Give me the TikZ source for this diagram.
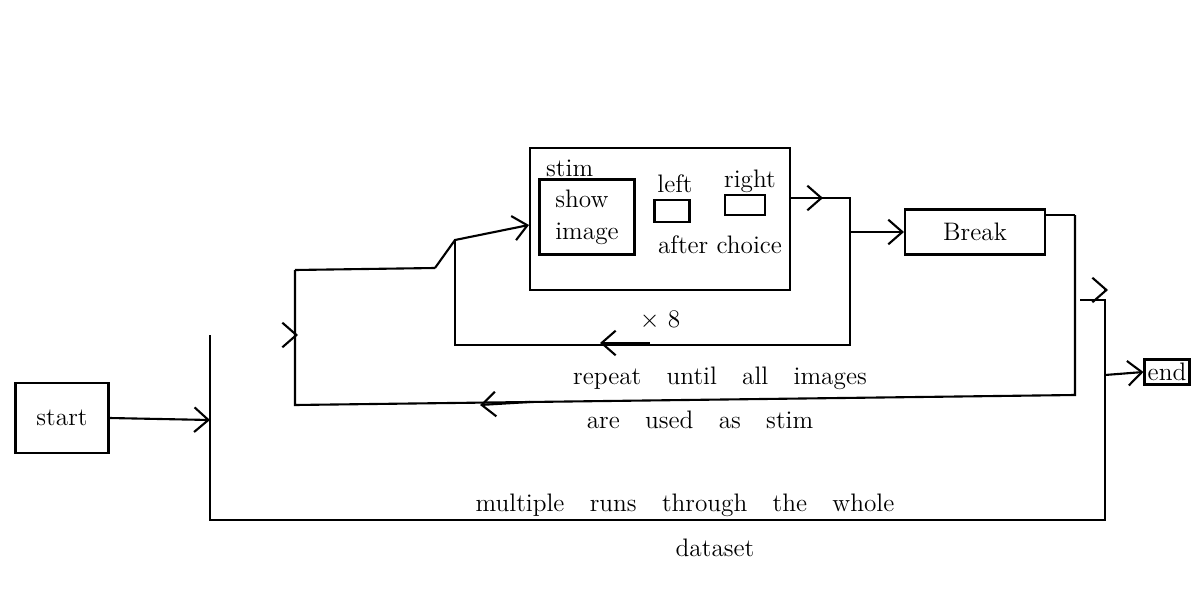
\documentclass[tikz,border=0pt]{standalone}
\usetikzlibrary{arrows.meta}
\begin{document}
\begin{tikzpicture}[x=0.02cm,y=-0.02cm,
 line/.style={draw,line width=1.2pt},
 arr/.style={line,-{Straight Barb[length=8pt,width=14pt]}},
 bx/.style={draw,line width=1.2pt,inner sep=0pt},
 lbl/.style={font=\Large}]
\useasboundingbox (0,0) rectangle (1200,608);
% start
\node[bx,minimum width=1.86cm,minimum height=1.4cm,lbl] (start) at (62,418) {start};
\coordinate (sL) at (210,420);
\draw[arr] (start.east) -- (sL);
% outer loop
\coordinate (o1) at (210,335); \coordinate (o2) at (210,520); \coordinate (o3) at (1105,520); \coordinate (o4) at (1105,300);
\draw[line] (o1) -- (o2) -- (o3) -- (o4) -- (1080,300);
\draw[arr] (1104,290) -- (1108,290);
\node[lbl] (ml) at (685,505) {multiple\quad runs\quad through\quad the\quad whole};
\node[lbl] (ds) at (715,548) {dataset};
% middle loop
\coordinate (m1) at (295,270); \coordinate (m2) at (295,405); \coordinate (m3) at (1075,395); \coordinate (m4) at (1075,215); \coordinate (m5) at (435,268);
\draw[line] (m1) -- (m5);
\draw[line] (m1) -- (m2) -- (m3) -- (m4);
\draw[arr] (294,335) -- (298,335);
\draw[arr] (530,402) -- (480,405);
\node[lbl] (rp) at (720,378) {repeat\quad until\quad all\quad images};
\node[lbl] (au) at (700,420) {are\quad used\quad as\quad stim};
% main box
\node[bx,minimum width=5.2cm,minimum height=2.84cm] (main) at (660,219) {};
\node[bx,minimum width=1.9cm,minimum height=1.5cm,align=left,lbl] (stim) at (587,217) {show\\image};
\node[lbl,anchor=south west] (stl) at (540,183) {stim};
\node[bx,minimum width=0.7cm,minimum height=0.44cm] (lb) at (672,211) {};
\node[bx,minimum width=0.8cm,minimum height=0.4cm] (rb) at (745,205) {};
\node[lbl] (ll) at (675,184) {left};
\node[lbl] (rl) at (750,181) {right};
\node[lbl] (ac) at (720,245) {after choice};
% inner loop
\coordinate (i1) at (455,240); \coordinate (i2) at (455,345); \coordinate (i3) at (850,345); \coordinate (i4) at (850,198);
\draw[arr] (m5) -- (i1) -- (main.west |- 0,225);
\draw[line] (i1) -- (i2) -- (i3) -- (i4) -- (main.east |- 0,198);
\draw[arr] (650,343) -- (600,343);
\draw[arr] (820,198) -- (823,198);
\node[lbl] (x8) at (660,320) {$\times$ 8};
% break
\node[bx,minimum width=2.8cm,minimum height=0.9cm,lbl] (brk) at (975,232) {Break};
\draw[arr] (850,232) -- (brk.west);
\draw[line] (brk.east |- 0,215) -- (m4);
% end
\node[bx,minimum width=0.9cm,minimum height=0.5cm,lbl] (end) at (1167,372) {end};
\draw[arr] (1105,375) -- (end.west);
\end{tikzpicture}
\end{document}
